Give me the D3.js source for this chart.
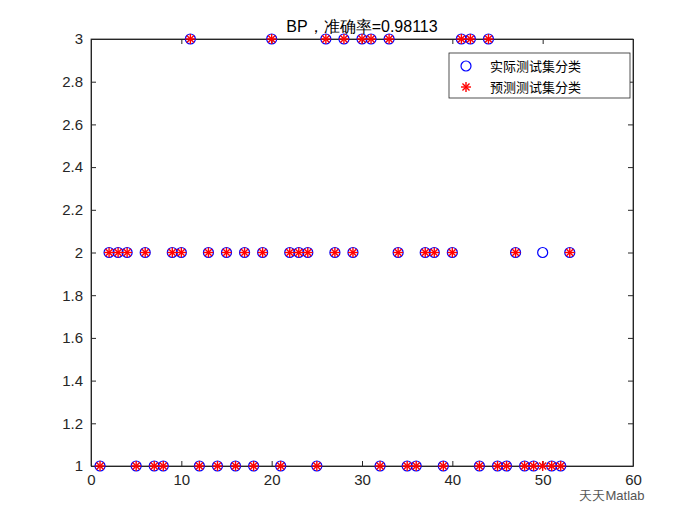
<!DOCTYPE html>
<html><head><meta charset="utf-8">
<script src="https://cdn.jsdelivr.net/npm/d3@7"></script>
<style>body{margin:0;background:#fff}text{font-family:Arial,"Liberation Sans",sans-serif}</style>
</head><body><svg id="vis" width="700" height="525"></svg>
<script>
// actual test set class per sample (1..53)
const actual = [1,2,2,2,1,2,1,1,2,2,3,1,2,1,2,1,2,1,2,3,1,2,2,2,1,3,2,3,2,3,3,1,3,2,1,1,2,2,1,2,3,3,1,3,1,1,2,1,1,2,1,1,2];
// predicted class per sample
const predicted = [1,2,2,2,1,2,1,1,2,2,3,1,2,1,2,1,2,1,2,3,1,2,2,2,1,3,2,3,2,3,3,1,3,2,1,1,2,2,1,2,3,3,1,3,1,1,2,1,1,1,1,1,2];
const xTicks = [0,10,20,30,40,50,60];
const yTicks = [1,1.2,1.4,1.6,1.8,2,2.2,2.4,2.6,2.8,3];

const svg = d3.select("#vis");
const L = 91, R = 633, T = 39, B = 466;
const x = d3.scaleLinear().domain([0,60]).range([L,R]);
const y = d3.scaleLinear().domain([1,3]).range([B,T]);

svg.append("rect").attr("x",L).attr("y",T).attr("width",R-L).attr("height",B-T)
  .attr("fill","#fff").attr("stroke","#262626").attr("stroke-width",0.8);

const ax = svg.append("g").attr("transform",`translate(0,${B})`)
  .call(d3.axisBottom(x).tickValues(xTicks).tickSizeInner(-5).tickSizeOuter(0).tickPadding(8));
const axT = svg.append("g").attr("transform",`translate(0,${T})`)
  .call(d3.axisTop(x).tickValues(xTicks).tickSizeInner(-5).tickSizeOuter(0).tickFormat(""));
const ay = svg.append("g").attr("transform",`translate(${L},0)`)
  .call(d3.axisLeft(y).tickValues(yTicks).tickSizeInner(-5).tickSizeOuter(0).tickPadding(8).tickFormat(d3.format("~g")));
const ayR = svg.append("g").attr("transform",`translate(${R},0)`)
  .call(d3.axisRight(y).tickValues(yTicks).tickSizeInner(-5).tickSizeOuter(0).tickFormat(""));
[ax,axT,ay,ayR].forEach(g=>{
  g.select(".domain").attr("stroke","#262626");
  g.selectAll("line").attr("stroke","#262626");
  g.selectAll("text").attr("fill","#262626").style("font-size","15px");
});

const star = (g,cx,cy,r)=>{
  for(let k=0;k<4;k++){
    const a = k*Math.PI/4;
    g.append("line").attr("x1",cx-r*Math.cos(a)).attr("y1",cy-r*Math.sin(a))
      .attr("x2",cx+r*Math.cos(a)).attr("y2",cy+r*Math.sin(a))
      .attr("stroke","#f00").attr("stroke-width",1.4);
  }
};

svg.append("g").selectAll("circle").data(actual).join("circle")
  .attr("cx",(d,i)=>x(i+1)).attr("cy",d=>y(d)).attr("r",5)
  .attr("fill","none").attr("stroke","#00f").attr("stroke-width",1.2);
const gs = svg.append("g");
predicted.forEach((d,i)=>star(gs,x(i+1),y(d),5));

svg.append("text").attr("x",(L+R)/2).attr("y",32).attr("text-anchor","middle")
  .style("font-size","16px").attr("fill","#000").text("BP，准确率=0.98113");

const lg = svg.append("g");
lg.append("rect").attr("x",449).attr("y",53).attr("width",181).attr("height",45)
  .attr("fill","#fff").attr("stroke","#262626").attr("stroke-width",0.8);
lg.append("circle").attr("cx",466).attr("cy",66).attr("r",5).attr("fill","none").attr("stroke","#00f").attr("stroke-width",1.2);
star(lg,466,87,5);
lg.append("text").attr("x",490).attr("y",71).style("font-size","13px").style("font-family","'Noto Sans CJK SC'").text("实际测试集分类");
lg.append("text").attr("x",490).attr("y",92).style("font-size","13px").style("font-family","'Noto Sans CJK SC'").text("预测测试集分类");

svg.append("text").attr("x",612).attr("y",500).attr("text-anchor","middle")
  .style("font-size","13px").attr("fill","#555").text("天天Matlab");
</script></body></html>
